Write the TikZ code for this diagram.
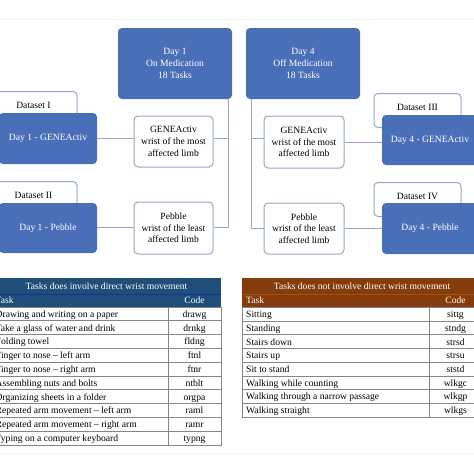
\documentclass[tikz,border=0pt]{standalone}
\usepackage{fontspec}
\setmainfont{Liberation Serif}
\usetikzlibrary{positioning}
\definecolor{dayblue}{HTML}{4A6FB9}
\definecolor{linkcol}{HTML}{97A6CB}
\definecolor{headblue}{HTML}{1F4E79}
\definecolor{headbrown}{HTML}{843C0C}
\definecolor{gridcol}{HTML}{858585}

\begin{document}
\begin{tikzpicture}[x=1pt,y=-1pt,
    font=\fontsize{9.6}{11.7}\selectfont,
    daybox/.style={fill=dayblue, text=white, rounded corners=4pt, align=center, inner sep=0pt},
    sensorbox/.style={draw=linkcol, line width=1pt, fill=white, rounded corners=4pt, align=center, inner sep=0pt},
    setbox/.style={draw=linkcol, line width=1pt, fill=white, rounded corners=4pt, anchor=north,
                   minimum width=87pt, inner ysep=0pt, text height=17pt, text depth=17pt},
    link/.style={draw=linkcol, line width=1pt},
    cell/.style={inner sep=0pt, anchor=base west},
    codecell/.style={inner sep=0pt, anchor=base},
    headtext/.style={inner sep=0pt, anchor=base, text=white},
    grid/.style={draw=gridcol, line width=0.9pt}]
\clip (0,0) rectangle (474,474);
\fill[white] (0,0) rectangle (474,474);
\draw[gray!10, line width=1pt] (0,19) -- (474,19);
\draw[gray!10, line width=1pt] (0,454) -- (474,454);

% datasets
\begin{scope}
    \node[setbox] (ds1) at (33.5,91) {Dataset I};
    \node[setbox] (ds2) at (33.5,181) {Dataset II};
    \node[setbox] (ds3) at (417.5,93) {Dataset III};
    \node[setbox] (ds4) at (417.5,182) {Dataset IV};
\end{scope}

% days
\begin{scope}
    \node[daybox, minimum width=114pt, minimum height=71pt] (day1) at (175,63.5) {Day 1\\On Medication\\18 Tasks};
    \node[daybox, minimum width=114pt, minimum height=71pt] (day4) at (303,63.5) {Day 4\\Off Medication\\18 Tasks};

    \node[daybox, minimum width=98pt, minimum height=51pt] (d1g) at (48,138.5) {Day 1 - GENEActiv};
    \node[daybox, minimum width=98pt, minimum height=50pt] (d1p) at (48,228) {Day 1 - Pebble};
    \node[daybox, minimum width=96pt, minimum height=50pt] (d4g) at (430,140) {Day 4 - GENEActiv};
    \node[daybox, minimum width=96pt, minimum height=51pt] (d4p) at (430,228.5) {Day 4 - Pebble};
\end{scope}

% sensors
\begin{scope}
    \node[sensorbox, minimum width=79pt, minimum height=51pt] (gen1) at (173.5,141.5) {GENEActiv\\wrist of the most\\affected limb};
    \node[sensorbox, minimum width=79pt, minimum height=52pt] (peb1) at (173.5,228) {Pebble\\wrist of the least\\affected limb};
    \node[sensorbox, minimum width=80pt, minimum height=52pt] (gen4) at (304,142) {GENEActiv\\wrist of the most\\affected limb};
    \node[sensorbox, minimum width=80pt, minimum height=51pt] (peb4) at (304,228.5) {Pebble\\wrist of the least\\affected limb};
\end{scope}

\begin{scope}[every path/.style={link}]
    \draw ([xshift=-4pt]day1.south east) |- ([yshift=3.5pt]gen1.east);
    \draw ([xshift=-4pt]day1.south east) |- ([yshift=1pt]peb1.east);
    \draw (d1g.east) -- (d1g.east -| gen1.west);
    \draw ([yshift=1pt]d1p.east) -- ([yshift=1pt]d1p.east -| peb1.west);

    \draw ([xshift=6pt]day4.south west) |- ([yshift=4pt]gen4.west);
    \draw ([xshift=6pt]day4.south west) |- ([yshift=0.5pt]peb4.west);
    \draw ([yshift=-0.7pt]gen4.east) -- ([yshift=-0.7pt]gen4.east -| d4g.west);
    \draw (peb4.east) -- (peb4.east -| d4p.west);
\end{scope}

% table: direct wrist movement
\fill[headblue] (-8,278) rectangle (221,307);
\draw[blue!40!headblue, line width=0.5pt] (-8,294) -- (221,294);
\node[headtext] (t1title) at (106.5,289) {Tasks does involve direct wrist movement};
\node[headtext, anchor=base west] (t1task) at (-4.5,303.5) {Task};
\node[headtext] (t1code) at (194.5,303.5) {Code};
\foreach \task/\code [count=\i] in {Drawing and writing on a paper/drawg,
        Take a glass of water and drink/drnkg, Folding towel/fldng,
        Finger to nose – left arm/ftnl, Finger to nose – right arm/ftnr,
        Assembling nuts and bolts/ntblt, Organizing sheets in a folder/orgpa,
        Repeated arm movement – left arm/raml, Repeated arm movement – right arm/ramr,
        Typing on a computer keyboard/typng} {
    \node[cell] (lt\i) at (-4.5,{307+(\i-0.5)*13.8+3.3}) {\task};
    \node[codecell] (lc\i) at (194.5,{307+(\i-0.5)*13.8+3.3}) {\code};
    \draw[grid] (-8,{307+\i*13.8}) -- (221,{307+\i*13.8});
}
\draw[grid] (-8,307) rectangle (221,445);
\draw[grid] (168,307) -- (168,445);

% table: no direct wrist movement
\fill[headbrown] (242,278) rectangle (482,307);
\draw[orange!30!headbrown, line width=0.5pt] (242,294) -- (482,294);
\node[headtext] (t2title) at (362,289) {Tasks does not involve direct wrist movement};
\node[headtext, anchor=base west] (t2task) at (246,303.5) {Task};
\node[headtext] (t2code) at (455.5,303.5) {Code};
\foreach \task/\code [count=\i] in {Sitting/sittg, Standing/stndg, Stairs down/strsd,
        Stairs up/strsu, Sit to stand/ststd, Walking while counting/wlkgc,
        Walking through a narrow passage/wlkgp, Walking straight/wlkgs} {
    \node[cell] (rt\i) at (246,{307.5+(\i-0.5)*13.72+3.3}) {\task};
    \node[codecell] (rc\i) at (455.5,{307.5+(\i-0.5)*13.72+3.3}) {\code};
    \draw[grid] (242,{307.5+\i*13.72}) -- (482,{307.5+\i*13.72});
}
\draw[grid] (242,307.5) rectangle (482,417.3);
\draw[grid] (429,307.5) -- (429,417.3);
\end{tikzpicture}
\end{document}
